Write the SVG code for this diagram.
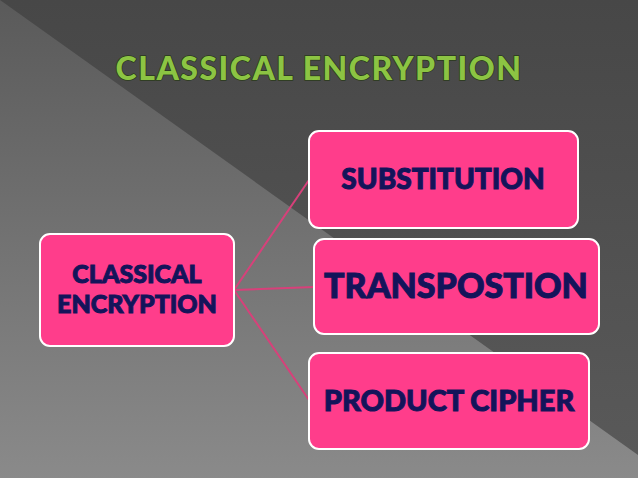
<svg xmlns="http://www.w3.org/2000/svg" width="638" height="478" viewBox="0 0 638 478">
<defs>
<linearGradient id="bgD" x1="0" y1="0" x2="0" y2="1"><stop offset="0" stop-color="#474747"/><stop offset="1" stop-color="#5a5a5a"/></linearGradient>
<linearGradient id="bgL" x1="0" y1="0" x2="0" y2="1"><stop offset="0" stop-color="#5a5a5a"/><stop offset="1" stop-color="#8a8a8a"/></linearGradient>
<style>
.box{fill:#ff3d8b;stroke:#ffffff;stroke-width:2}
.t{font-family:"Lato","Open Sans",sans-serif;font-weight:900;fill:#14145a;stroke:#14145a;stroke-width:1;text-anchor:middle}
.c{stroke:#d8407a;stroke-width:2;fill:none}
</style>
</defs>
<rect width="638" height="478" fill="url(#bgD)"/>
<polygon points="0,0 638,455 638,478 0,478" fill="url(#bgL)"/>
<text x="319" y="80" font-family="Lato,'Open Sans',sans-serif" font-weight="900" font-size="32" fill="#8cc443" stroke="#2a3a1a" stroke-width="1.5" paint-order="stroke" text-anchor="middle" letter-spacing="1.5">CLASSICAL ENCRYPTION</text>
<g id="connectors">
<line class="c" x1="234" y1="290" x2="309" y2="180"/>
<line class="c" x1="234" y1="290" x2="314" y2="287"/>
<line class="c" x1="234" y1="290" x2="309" y2="400"/>
</g>
<g id="n-root"><rect class="box" x="40" y="234" width="194" height="112" rx="10"/>
<text class="t" x="137" y="283" font-size="25">CLASSICAL</text><text class="t" x="137" y="313" font-size="25">ENCRYPTION</text></g>
<g id="n-sub"><rect class="box" x="309" y="131" width="269" height="97" rx="10"/>
<text class="t" x="443" y="189" font-size="28">SUBSTITUTION</text></g>
<g id="n-trans"><rect class="box" x="314" y="239" width="285" height="95" rx="10"/>
<text class="t" x="456" y="298" font-size="34">TRANSPOSTION</text></g>
<g id="n-prod"><rect class="box" x="309" y="353" width="280" height="96" rx="10"/>
<text class="t" x="449" y="411" font-size="29">PRODUCT CIPHER</text></g>
</svg>
